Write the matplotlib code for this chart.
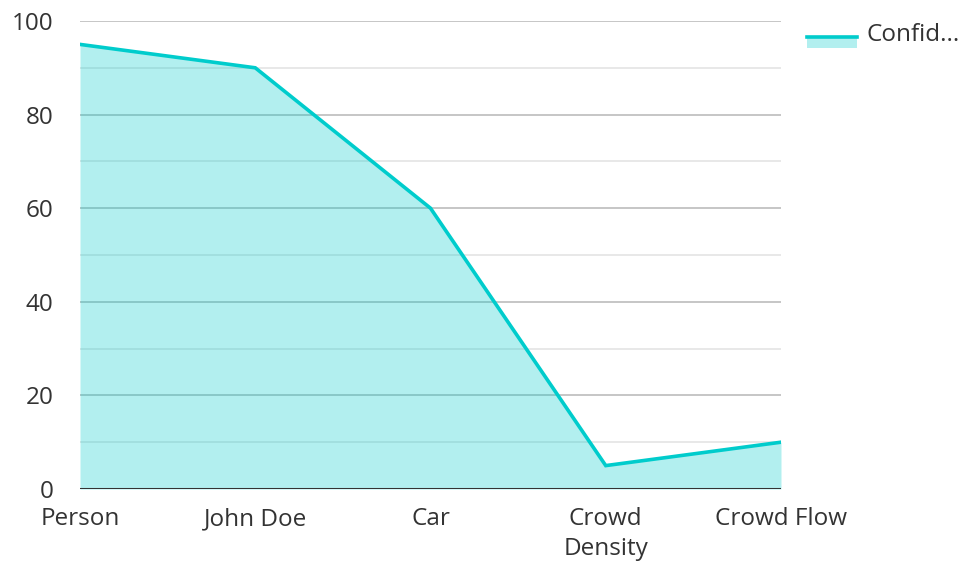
import matplotlib.pyplot as plt
from matplotlib.patches import Rectangle
from matplotlib.lines import Line2D

categories = ['Person', 'John Doe', 'Car', 'Crowd\nDensity', 'Crowd Flow']
confidence = [95, 90, 60, 5, 10]
series_name = 'Confid...'

line_color = '#00cccc'
text_color = '#333333'

plt.rcParams['font.family'] = ['Open Sans', 'DejaVu Sans']

fig = plt.figure(figsize=(9.63, 5.63), dpi=100)
ax = fig.add_axes([80 / 963, 1 - 489 / 563, 701 / 963, 468 / 563])

x = list(range(len(categories)))
ax.fill_between(x, confidence, 0, color=line_color, alpha=0.3, linewidth=0, zorder=2)
ax.plot(x, confidence, color=line_color, linewidth=2.6, zorder=3, solid_joinstyle='miter')

ax.set_xlim(0, len(categories) - 1)
ax.set_ylim(0, 100)

# major and minor grid
for v in range(10, 101, 10):
    major = v % 20 == 0
    ax.axhline(v, color='#c2c2c2' if major else '#e6e6e6', linewidth=1.3, zorder=1)
ax.axhline(0, color=text_color, linewidth=2.2, zorder=4)

for s in ax.spines.values():
    s.set_visible(False)

ax.set_yticks(range(0, 101, 20))
ax.set_xticks(x)
ax.set_xticklabels(categories, linespacing=1.35, va='top')
ax.tick_params(axis='y', length=0, pad=19, labelsize=17.5, labelcolor=text_color)
ax.tick_params(axis='x', length=0, pad=13, labelsize=17.5, labelcolor=text_color)

# legend
fig.add_artist(Rectangle((807 / 963, 1 - 48 / 563), 50 / 963, 11 / 563,
                         transform=fig.transFigure, color=line_color, alpha=0.3, lw=0))
fig.add_artist(Line2D([807 / 963, 857 / 963], [1 - 37 / 563, 1 - 37 / 563],
                      transform=fig.transFigure, color=line_color, linewidth=2.6))
fig.text(866 / 963, 1 - 35 / 563, series_name, fontsize=17.5, color=text_color,
         va='center', ha='left')

fig.savefig('out.png', dpi=100)
